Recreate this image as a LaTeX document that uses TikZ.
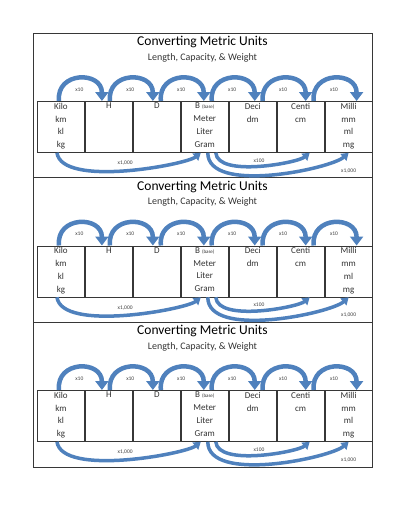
\documentclass[tikz,border=0pt]{standalone}
\usepackage{fontspec}
\setmainfont{Carlito}
\usetikzlibrary{positioning,arrows.meta}
\definecolor{arrowblue}{RGB}{79,129,189}
\definecolor{framegray}{RGB}{55,55,55}
\tikzset{
  unitcol/.style={draw=framegray, line width=0.8pt, minimum width=47.14pt, minimum height=51pt, inner sep=0pt},
  unittext/.style={anchor=north, align=center, inner sep=2pt, font=\fontsize{9}{12.7}\selectfont, text=black!80},
  hop/.style={arrowblue, line width=4.5pt, -{Triangle[width=13pt,length=9pt]}},
  jump/.style={arrowblue, line width=3.5pt, -{Triangle[width=9pt,length=7pt]}},
  factor/.style={font=\fontsize{5.5}{6}\selectfont, text=black!75, inner sep=1pt},
}

\begin{document}
\begin{tikzpicture}[x=1pt,y=-1pt]
    \useasboundingbox (0,0) rectangle (405,525);
    % frame round the three copies
    \draw[framegray, line width=1pt] (33,33) rectangle (372,467);
    \draw[framegray, line width=1pt] (33,177.5) -- (372,177.5);
    \draw[framegray, line width=1pt] (33,322) -- (372,322);
    \foreach \s/\oy in {1/33,2/177.5,3/322} {
        % heading
        \node[font=\fontsize{13.5}{15}\selectfont] (title\s) at (202.5,\oy+9) {Converting Metric Units};
        \node[font=\fontsize{10}{12}\selectfont, text=black!80, below=-1.5pt of title\s] (sub\s) {Length, Capacity, \& Weight};
        % the table
        \node[unitcol, anchor=north west, label={[unittext]north:Kilo\\km\\kl\\kg}] (kilo\s) at (37,\oy+68) {};
        \node[unitcol, right=0pt of kilo\s, label={[unittext]north:H}] (hecto\s) {};
        \node[unitcol, right=0pt of hecto\s, label={[unittext]north:D}] (deka\s) {};
        \node[unitcol, right=0pt of deka\s, label={[unittext]north:B {\tiny (base)}\\Meter\\Liter\\Gram}] (base\s) {};
        \node[unitcol, right=0pt of base\s, label={[unittext]north:Deci\\dm}] (deci\s) {};
        \node[unitcol, right=0pt of deci\s, label={[unittext]north:Centi\\cm}] (centi\s) {};
        \node[unitcol, right=0pt of centi\s, label={[unittext]north:Milli\\mm\\ml\\mg}] (milli\s) {};
        % x10 hops over the top
        \foreach \a/\b [count=\i] in {kilo/hecto,hecto/deka,deka/base,base/deci,deci/centi,centi/milli}
            \draw[hop] ([xshift={-5+3*\i}]\a\s.north) .. controls +(-3,-30) and +(0,-30) .. ([xshift={-10+3*\i}]\b\s.north)
                node[factor, midway, below=6pt] {x10};
        % bigger jumps underneath
        \draw[jump] ([xshift=-4]kilo\s.south) .. controls +(5,35) and +(-15,12) .. ([xshift=-4]base\s.south)
            node[factor, midway, above=2pt] {x1,000};
        \draw[jump] ([xshift=11]base\s.south) .. controls +(2,25) and +(-12,10) .. ([xshift=9]centi\s.south)
            node[factor, midway, above=1pt] {x100};
        \draw[jump] ([xshift=3]base\s.south) .. controls +(0,42) and +(-18,16) .. (milli\s.south)
            node[factor, at end, below=13pt] {x1,000};
    }
\end{tikzpicture}
\end{document}
